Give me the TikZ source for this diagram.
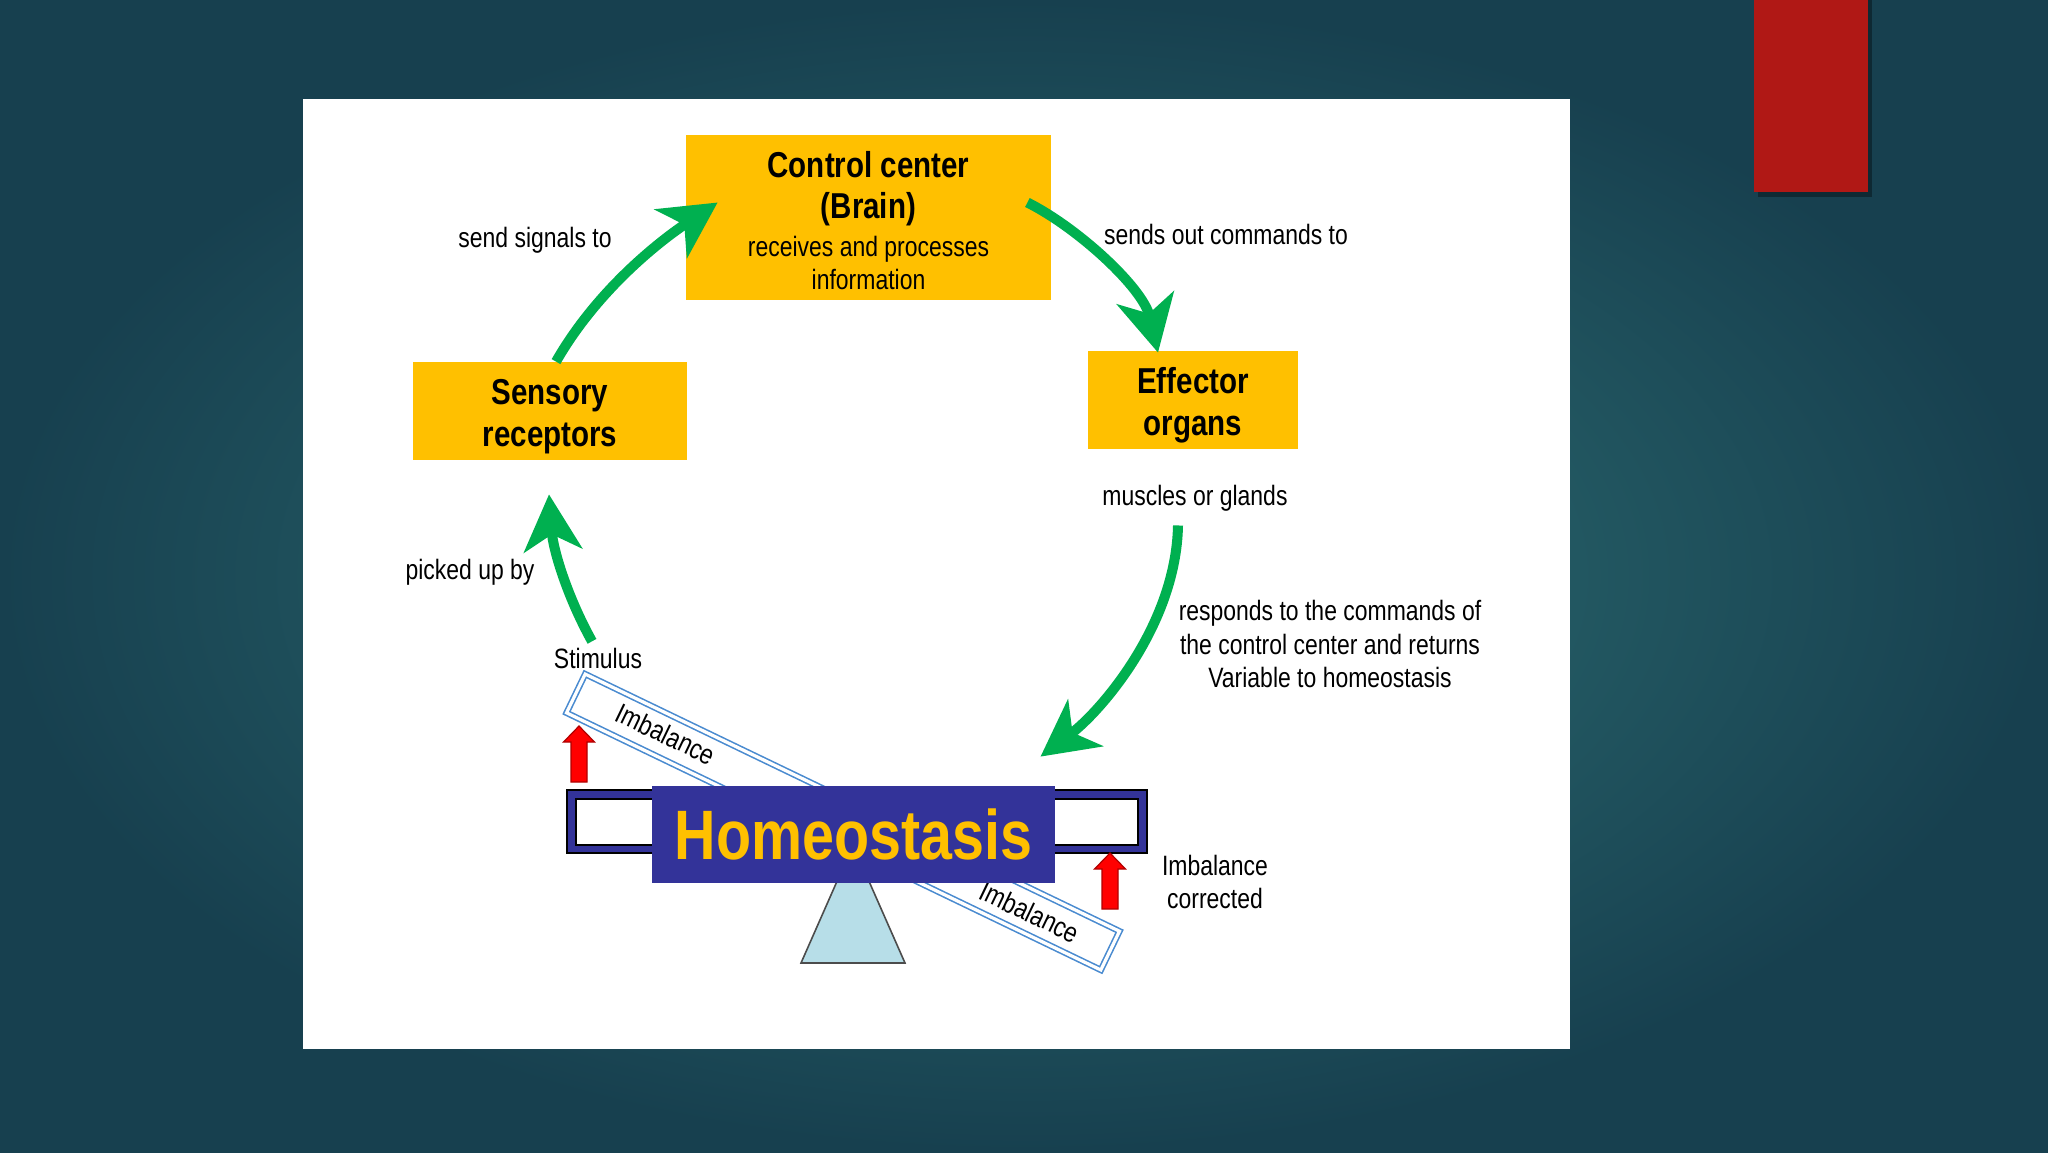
\documentclass[tikz,border=0pt]{standalone}
\usepackage{fontspec}
\setmainfont{Liberation Sans}[FakeStretch=0.82]
\usetikzlibrary{arrows.meta, calc}
\usepackage{xcolor}
\definecolor{cGold}{HTML}{FFC000}
\definecolor{cGreen}{HTML}{00B050}
\definecolor{cNavy}{HTML}{333399}
\definecolor{cBarBlue}{HTML}{4A8BD0}
\definecolor{cFulcrum}{HTML}{B7DEE8}
\definecolor{cRed}{HTML}{FF0000}
\definecolor{cDarkRed}{HTML}{B00000}
\definecolor{cSlideIn}{HTML}{2F7276}
\definecolor{cSlideOut}{HTML}{17404F}
\definecolor{cTab}{HTML}{B01815}
\tikzset{
  goldbox/.style={
    fill=cGold, inner sep=0pt, align=center, text=black,
    font=\fontsize{18}{21}\selectfont\bfseries,
  },
  lbl/.style={font=\fontsize{14}{16.75}\selectfont, inner sep=0pt, text=black},
  tiltbar/.style={
    draw=cBarBlue, double=white, double distance=1.6pt,
    line width=0.8pt, fill=white, inner sep=0pt,
  },
  fulcrum/.style={fill=cFulcrum, draw=black!70, line width=0.8pt},
  redarw/.style={fill=cRed, draw=cDarkRed, line width=0.6pt},
  arw/.style={-{Stealth[length=28pt, width=29pt, inset=8pt]}, line width=5pt, draw=cGreen},
}

\begin{document}
\begin{tikzpicture}[x=0.5pt, y=-0.5pt]
  \useasboundingbox (0,0) rectangle (2048,1152);

  % Slide background
  \shade[inner color=cSlideIn, outer color=cSlideOut] (0,0) rectangle (2048,1152);
  \fill[black, opacity=0.35] (1758,0) rectangle (1872,197);
  \fill[cTab] (1754,0) rectangle (1868,192);
  \fill[white] (303,99) rectangle (1570,1049);

  % Cycle nodes
  \node[goldbox, minimum width=182.5pt, minimum height=82.5pt,
        font=\fontsize{18}{20.5}\selectfont]
    (ctrl) at (868.5,217.5) {\rule{0pt}{16pt}\bfseries Control center\\\bfseries (Brain)\\[-1.5pt]%
      \fontsize{14}{16.5}\selectfont receives and processes\\[-4pt]%
      \fontsize{14}{16.5}\selectfont information};
  \node[goldbox, minimum width=137pt, minimum height=49pt]
    (sens) at (550,411) {\rule{0pt}{18pt}Sensory\\receptors};
  \node[goldbox, minimum width=105pt, minimum height=49pt]
    (eff) at (1193,400) {\rule{0pt}{18pt}Effector\\organs};

  % Labels
  \node[lbl] (sendsig) at (535,240) {send signals to};
  \node[lbl] (sendcmd) at (1226,234) {sends out commands to};
  \node[lbl] (musc) at (1195,498) {muscles or glands};
  \node[lbl] (picked) at (470,572) {picked up by};
  \node[lbl] (stim) at (598,658) {Stimulus};
  \node[lbl, align=center] (resp) at (1330,644)
    {responds to the commands of\\the control center and returns\\Variable to homeostasis};
  \node[lbl, align=center, font=\fontsize{14}{16.5}\selectfont] (corr) at (1215,882)
    {Imbalance\\corrected};

  % Seesaw
  \node[tiltbar, minimum width=296.5pt, minimum height=21.5pt, rotate=-25.7] (bar) at (843,822) {};
  \node[lbl, rotate=-25.7] (imbL) at (666,734) {Imbalance};
  \node[lbl, rotate=-25.7] (imbR) at (1030,912) {Imbalance};
  \draw[fulcrum] (853,845) -- (905,963) -- (801,963) -- cycle;
  \filldraw[fill=cNavy, draw=black, line width=0.6pt] (567,790) rectangle (1147,853);
  \filldraw[fill=white, draw=black, line width=0.6pt] (576,799) rectangle (1138,845);
  \node[fill=cNavy, minimum width=201.5pt, minimum height=48.5pt, inner sep=0pt,
        text=cGold, font=\fontsize{35}{40}\selectfont\bfseries]
    (homeo) at (853.5,834.5) {Homeostasis};
  \foreach \ax/\ay in {579/726, 1110/853}
    \filldraw[redarw, shift={(\ax,\ay)}] (0,0) -- (15.5,16) -- (8,16) -- (8,56)
      -- (-8,56) -- (-8,16) -- (-15.5,16) -- cycle;

  % Cycle arrows
  \draw[arw] ($(sens.north)+(6,0)$) .. controls +(40,-70) and +(-60,40) .. ($(ctrl.west)+(32,-15)$);
  \draw[arw] ($(ctrl.east)+(-24,-15)$) .. controls +(50,25) and +(-15,-65) .. ($(eff.north)+(-35,2)$);
  \draw[arw] ($(musc.south)+(-17,14)$) .. controls +(-2,100) and +(60,-45) .. ($(homeo.north)+(187,-29)$);
  \draw[arw] ($(stim.north)+(-6,-6)$) .. controls +(-25,-45) and +(4,55) .. ($(sens.south)+(-1,34)$);

\end{tikzpicture}
\end{document}
